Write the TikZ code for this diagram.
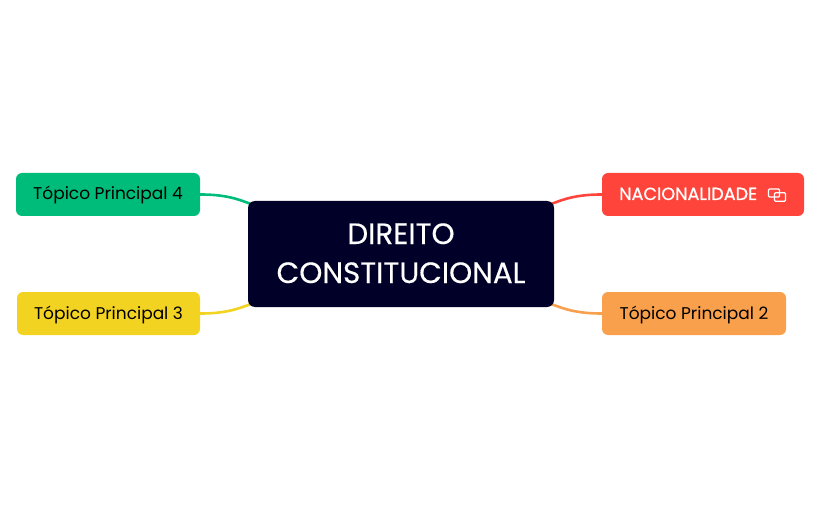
\documentclass[tikz,border=0pt]{standalone}
\usepackage{fontspec}
\setmainfont{Poppins}
\newfontfamily\semibold[FakeBold=0.35]{Poppins}
\newfontfamily\heavier[FakeBold=0.7]{Poppins}
\usetikzlibrary{backgrounds}
\definecolor{navy}{HTML}{000028}
\definecolor{cred}{HTML}{FF453B}
\definecolor{cgreen}{HTML}{00BC7B}
\definecolor{cyellow}{HTML}{F3D321}
\definecolor{corange}{HTML}{F9A04D}
\tikzset{
  topic/.style={rounded corners=6pt,inner sep=0pt,minimum height=43pt,text height=13pt,text depth=2pt,font=\fontsize{17}{20}\selectfont,text=black},
  hub/.style={rounded corners=7pt,fill=navy,text=white,inner sep=0pt,minimum width=306pt,minimum height=106pt,text height=66pt,text depth=8pt,align=center,font=\semibold\fontsize{29.4}{39}\selectfont},
  link/.style={line width=2.6pt},
  iconpart/.style={draw=white,line width=1.4pt,rounded corners=1pt}
}
\begin{document}
\begin{tikzpicture}[x=1pt,y=-1pt]
\useasboundingbox (0,0) rectangle (820,508);
\node[hub] (c) at (401,254) {DIREITO\\CONSTITUCIONAL};
\node[topic,fill=cgreen,minimum width=184pt] (t4) at (108,194.5) {Tópico Principal 4};
\node[topic,fill=cyellow,minimum width=183pt] (t3) at (108.5,313.5) {Tópico Principal 3};
\node[topic,fill=corange,minimum width=184pt] (t2) at (694,313.5) {Tópico Principal 2};
\node[topic,fill=cred,minimum width=202pt] (t1) at (703,194.5) {};
\node[anchor=west,inner sep=0pt,text=white,text height=13pt,text depth=2pt,font=\heavier\fontsize{17.6}{20}\selectfont] (nac) at (619,194.5) {NACIONALIDADE};
\node[iconpart,inner sep=0pt,minimum width=11pt,minimum height=8pt] (i1) at (774,193) {};
\node[iconpart,inner sep=0pt,minimum width=11pt,minimum height=8.5pt] (i2) at (780,197) {};
\begin{scope}[on background layer]
\draw[link,cgreen] (t4.east) .. controls +(25,0) and +(-15,-6) .. ([shift={(5,4)}]c.north west);
\draw[link,cyellow] (t3.east) .. controls +(25,0) and +(-15,6) .. ([shift={(5,-4)}]c.south west);
\draw[link,cred] (t1.west) .. controls +(-25,0) and +(15,-6) .. ([shift={(-5,4)}]c.north east);
\draw[link,corange] (t2.west) .. controls +(-25,0) and +(15,6) .. ([shift={(-5,-4)}]c.south east);
\end{scope}
\end{tikzpicture}
\end{document}
